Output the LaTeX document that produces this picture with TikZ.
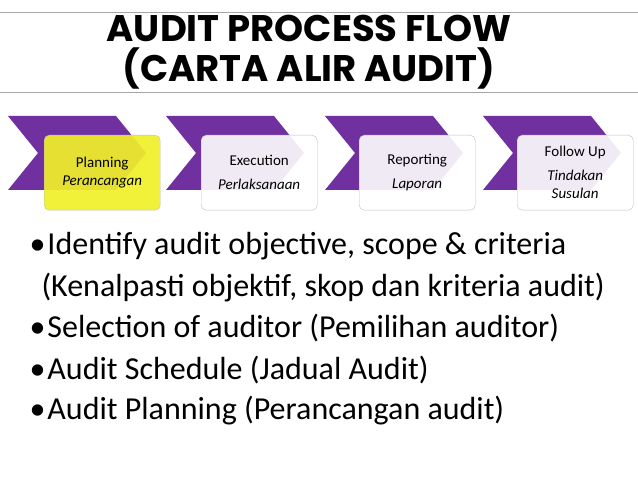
\documentclass[tikz,border=0pt]{standalone}
\usepackage{fontspec}
\setmainfont{Carlito}
\newfontfamily\titlefont{Poppins}
\begin{document}
\begin{tikzpicture}[x=1pt,y=-1pt,
  stepbox/.style={draw=gray!50, rounded corners=5pt, fill=white, fill opacity=0.9, text opacity=1, minimum width=116pt, minimum height=75pt, anchor=north west, align=center, font=\fontsize{15}{18}\selectfont},
  bul/.style={anchor=west, font=\fontsize{32}{36}\selectfont}]
\useasboundingbox (0,0) rectangle (638,478);
\node[draw=gray!70, line width=1.2pt, minimum width=640pt, minimum height=80pt, anchor=north west, inner sep=0pt] (title) at (-1,12) {};
\node[align=center, font=\titlefont\bfseries\fontsize{37}{40}\selectfont] (tt) at (309,52) {AUDIT PROCESS FLOW\\(CARTA ALIR AUDIT)};
\foreach \x/\n in {8/a,166/b,325/c,483/d}{
  \fill[fill={rgb,255:red,112;green,48;blue,160}] (\x,116) -- (\x+108,116) -- (\x+138,153) -- (\x+108,190) -- (\x,190) -- (\x+30,153) -- cycle;
}
\node[stepbox, fill={rgb,255:red,240;green,240;blue,40}, fill opacity=0.92] (p) at (44,135) {Planning\\\itshape Perancangan};
\node[stepbox] (e) at (201,135) {Execution\\[6pt]\itshape Perlaksanaan};
\node[stepbox] (r) at (359,135) {Reporting\\[6pt]\itshape Laporan};
\node[stepbox] (f) at (517,135) {\raisebox{14pt}{Follow Up}\\[-8pt]\itshape Tindakan\\\itshape Susulan};
\node[bul] (b1) at (26,246) {•\hspace{2pt}Identify audit objective, scope \& criteria};
\node[bul] (b2) at (38,288) {(Kenalpasti objektif, skop dan kriteria audit)};
\node[bul] (b3) at (26,328) {•\hspace{2pt}Selection of auditor (Pemilihan auditor)};
\node[bul] (b4) at (26,370) {•\hspace{2pt}Audit Schedule (Jadual Audit)};
\node[bul] (b5) at (26,411) {•\hspace{2pt}Audit Planning (Perancangan audit)};
\end{tikzpicture}
\end{document}
